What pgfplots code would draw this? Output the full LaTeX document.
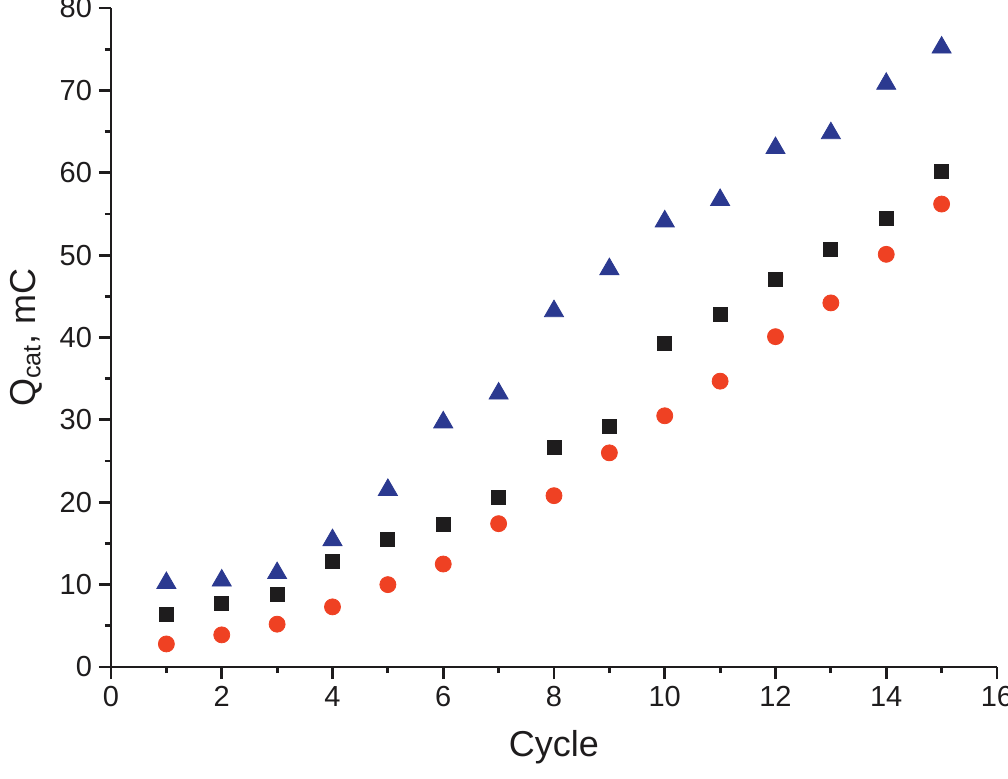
\documentclass[border=0pt]{standalone}
\usepackage{pgfplots}
\pgfplotsset{compat=1.18}
\usepackage{fontspec}
\setmainfont{Liberation Sans}
\definecolor{myblue}{RGB}{43,57,144}
\definecolor{myred}{RGB}{239,65,35}
\definecolor{myblack}{RGB}{30,28,29}
\begin{document}
\begin{tikzpicture}
\begin{axis}[
  scale only axis,
  width=443pt, height=329.5pt,
  xmin=0, xmax=16, ymin=0, ymax=80,
  axis lines=left,
  axis line style={-, line width=1.4pt, color=myblack},
  xtick={0,2,...,16}, ytick={0,10,...,80},
  minor x tick num=1, minor y tick num=1,
  tick align=outside,
  major tick length=6pt, minor tick length=3pt,
  every tick/.style={line width=1.4pt, color=myblack},
  /pgf/number format/assume math mode=true,
  tick label style={font=\fontsize{14.5}{16}\selectfont, color=myblack},
  label style={font=\fontsize{18}{20}\selectfont, color=myblack},
  xlabel={Cycle},
  xlabel style={yshift=-5pt},
  ylabel={Q\textsubscript{cat}, mC},
  ylabel style={yshift=2pt},
  clip=false,
]
\addplot[only marks, mark=triangle*, mark size=5.5pt, color=myblue, mark options={draw=none, fill=myblue}] coordinates {
(1,10.2) (2,10.5) (3,11.4) (4,15.4) (5,21.5) (6,29.7) (7,33.2) (8,43.2) (9,48.3) (10,54.1) (11,56.7) (12,63.0) (13,64.8) (14,70.8) (15,75.2)
};
\addplot[only marks, mark=square*, mark size=3.5pt, color=myblack, mark options={draw=none, fill=myblack}] coordinates {
(1,6.4) (2,7.7) (3,8.8) (4,12.8) (5,15.5) (6,17.3) (7,20.6) (8,26.6) (9,29.2) (10,39.3) (11,42.8) (12,47.1) (13,50.7) (14,54.5) (15,60.2)
};
\addplot[only marks, mark=*, mark size=4pt, color=myred, mark options={draw=none, fill=myred}] coordinates {
(1,2.8) (2,3.9) (3,5.2) (4,7.3) (5,10.0) (6,12.5) (7,17.4) (8,20.8) (9,26.0) (10,30.5) (11,34.7) (12,40.1) (13,44.2) (14,50.1) (15,56.2)
};
\end{axis}
\pgfresetboundingbox
\path[use as bounding box] (-55.5pt,-55.5pt) rectangle (448.5pt,333.5pt);
\end{tikzpicture}
\end{document}
